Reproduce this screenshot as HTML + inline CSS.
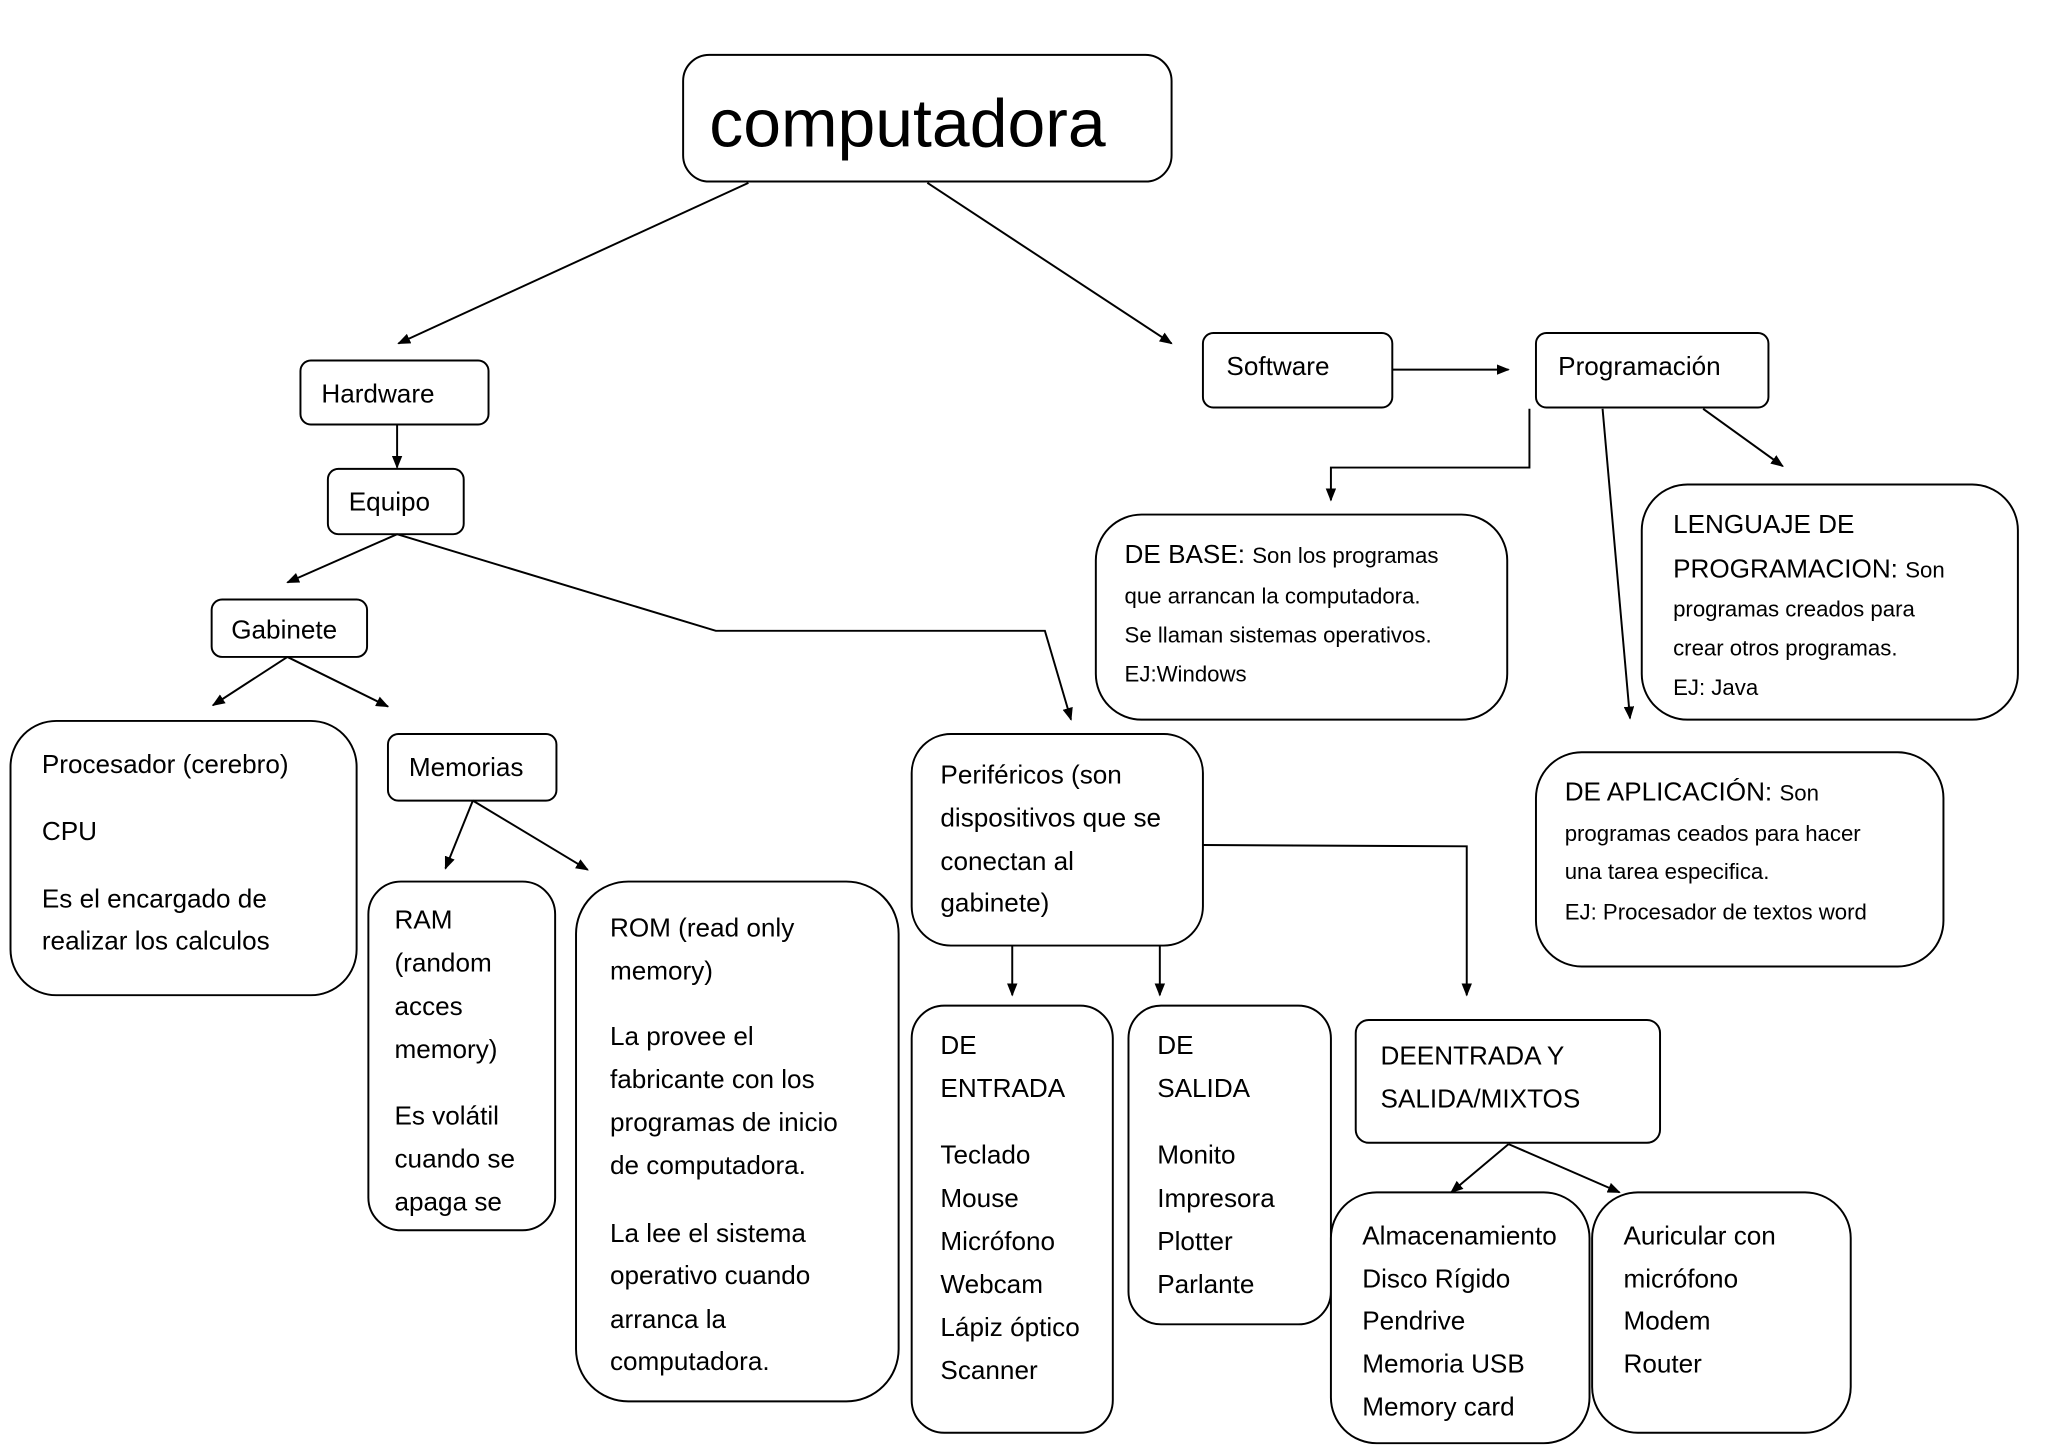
<!DOCTYPE html>
<html><head><meta charset="utf-8"><style>
html,body{margin:0;padding:0;background:#fff;}
svg{display:block;}
text{font-family:"Liberation Sans","DejaVu Sans",sans-serif;fill:#000;}
.t{font-size:20px;}
.s{font-size:17px;}
</style></head><body>
<svg width="2048" height="1448" viewBox="0 0 1568 1108.7" xmlns="http://www.w3.org/2000/svg">
<defs><marker id="a" markerWidth="10" markerHeight="8" refX="9" refY="4" orient="auto" markerUnits="userSpaceOnUse"><path d="M0,0 L10,4 L0,8 z" fill="#000"/></marker></defs>
<g fill="#fff" stroke="#000" stroke-width="1.5">
<rect x="523" y="42" width="374" height="97" rx="20"/>
<rect x="230" y="276" width="144" height="49" rx="8"/>
<rect x="921" y="255" width="145" height="57" rx="8"/>
<rect x="1176" y="255" width="178" height="57" rx="8"/>
<rect x="251" y="359" width="104" height="50" rx="8"/>
<rect x="162" y="459" width="119" height="44" rx="8"/>
<rect x="8" y="552" width="265" height="210" rx="35"/>
<rect x="297" y="562" width="129" height="51" rx="8"/>
<rect x="282" y="675" width="143" height="267" rx="25"/>
<rect x="441" y="675" width="247" height="398" rx="40"/>
<rect x="698" y="562" width="223" height="162" rx="30"/>
<rect x="698" y="770" width="154" height="327" rx="25"/>
<rect x="864" y="770" width="155" height="244" rx="25"/>
<rect x="1038" y="781" width="233" height="94" rx="10"/>
<rect x="1019" y="913" width="198" height="192" rx="35"/>
<rect x="1219" y="913" width="198" height="184" rx="35"/>
<rect x="839" y="394" width="315" height="157" rx="35"/>
<rect x="1257" y="371" width="288" height="180" rx="35"/>
<rect x="1176" y="576" width="312" height="164" rx="35"/>
</g>
<g stroke="#000" stroke-width="1.5" fill="none" marker-end="url(#a)">
<path d="M573,140 L305,263"/>
<path d="M710,140 L897,263"/>
<path d="M1066,283 L1155,283"/>
<path d="M304,325 L304,358"/>
<path d="M304,409 L220,446"/>
<path d="M304,409 L548,483 L800,483 L820,551"/>
<path d="M220,503 L163,540"/>
<path d="M220,503 L297,541"/>
<path d="M362,613 L341,665"/>
<path d="M362,613 L450,666"/>
<path d="M775,724 L775,762"/>
<path d="M888,724 L888,762"/>
<path d="M921,647 L1123,648 L1123,762"/>
<path d="M1155,876 L1111,913"/>
<path d="M1155,876 L1240,913"/>
<path d="M1171,313 L1171,358 L1019,358 L1019,383"/>
<path d="M1227,313 L1248,550"/>
<path d="M1304,313 L1365,357"/>
</g>
<text x="543" y="112" style="font-size:52px">computadora</text>
<text class="t" x="246" y="308">Hardware</text>
<text class="t" x="939" y="287">Software</text>
<text class="t" x="1193" y="287">Programación</text>
<text class="t" x="267" y="391">Equipo</text>
<text class="t" x="177" y="489">Gabinete</text>
<text class="t" x="32" y="592">Procesador (cerebro)</text>
<text class="t" x="32" y="643">CPU</text>
<text class="t" x="32" y="695">Es el encargado de</text>
<text class="t" x="32" y="727">realizar los calculos</text>
<text class="t" x="313" y="594">Memorias</text>
<g class="t">
<text class="t" x="302" y="711">RAM</text>
<text class="t" x="302" y="744">(random</text>
<text class="t" x="302" y="777">acces</text>
<text class="t" x="302" y="810">memory)</text>
<text class="t" x="302" y="861">Es volátil</text>
<text class="t" x="302" y="894">cuando se</text>
<text class="t" x="302" y="927">apaga se</text>
<text class="t" x="467" y="717">ROM (read only</text>
<text class="t" x="467" y="750">memory)</text>
<text class="t" x="467" y="800">La provee el</text>
<text class="t" x="467" y="833">fabricante con los</text>
<text class="t" x="467" y="866">programas de inicio</text>
<text class="t" x="467" y="899">de computadora.</text>
<text class="t" x="467" y="951">La lee el sistema</text>
<text class="t" x="467" y="983">operativo cuando</text>
<text class="t" x="467" y="1017">arranca la</text>
<text class="t" x="467" y="1049">computadora.</text>
<text class="t" x="720" y="600">Periféricos (son</text>
<text class="t" x="720" y="633">dispositivos que se</text>
<text class="t" x="720" y="666">conectan al</text>
<text class="t" x="720" y="698">gabinete)</text>
<text class="t" x="720" y="807">DE</text>
<text class="t" x="720" y="840">ENTRADA</text>
<text class="t" x="720" y="891">Teclado</text>
<text class="t" x="720" y="924">Mouse</text>
<text class="t" x="720" y="957">Micrófono</text>
<text class="t" x="720" y="990">Webcam</text>
<text class="t" x="720" y="1023">Lápiz óptico</text>
<text class="t" x="720" y="1056">Scanner</text>
<text class="t" x="886" y="807">DE</text>
<text class="t" x="886" y="840">SALIDA</text>
<text class="t" x="886" y="891">Monito</text>
<text class="t" x="886" y="924">Impresora</text>
<text class="t" x="886" y="957">Plotter</text>
<text class="t" x="886" y="990">Parlante</text>
<text class="t" x="1057" y="815">DEENTRADA Y</text>
<text class="t" x="1057" y="848">SALIDA/MIXTOS</text>
<text class="t" x="1043" y="953">Almacenamiento</text>
<text class="t" x="1043" y="986">Disco Rígido</text>
<text class="t" x="1043" y="1018">Pendrive</text>
<text class="t" x="1043" y="1051">Memoria USB</text>
<text class="t" x="1043" y="1084">Memory card</text>
<text class="t" x="1243" y="953">Auricular con</text>
<text class="t" x="1243" y="986">micrófono</text>
<text class="t" x="1243" y="1018">Modem</text>
<text class="t" x="1243" y="1051">Router</text>
</g>
<text x="861" y="431"><tspan class="t">DE BASE: </tspan><tspan class="s">Son los programas</tspan></text>
<text class="s" x="861" y="462">que arrancan la computadora.</text>
<text class="s" x="861" y="492">Se llaman sistemas  operativos.</text>
<text class="s" x="861" y="522">EJ:Windows</text>
<text class="t" x="1281" y="408">LENGUAJE DE</text>
<text x="1281" y="442"><tspan class="t">PROGRAMACION: </tspan><tspan class="s">Son</tspan></text>
<text class="s" x="1281" y="472">programas  creados para</text>
<text class="s" x="1281" y="502">crear otros  programas.</text>
<text class="s" x="1281" y="532">EJ: Java</text>
<text x="1198" y="613"><tspan class="t">DE APLICACIÓN: </tspan><tspan class="s">Son</tspan></text>
<text class="s" x="1198" y="644">programas  ceados para hacer</text>
<text class="s" x="1198" y="673">una tarea especifica.</text>
<text class="s" x="1198" y="704">EJ: Procesador de textos  word</text>
</svg>
</body></html>
